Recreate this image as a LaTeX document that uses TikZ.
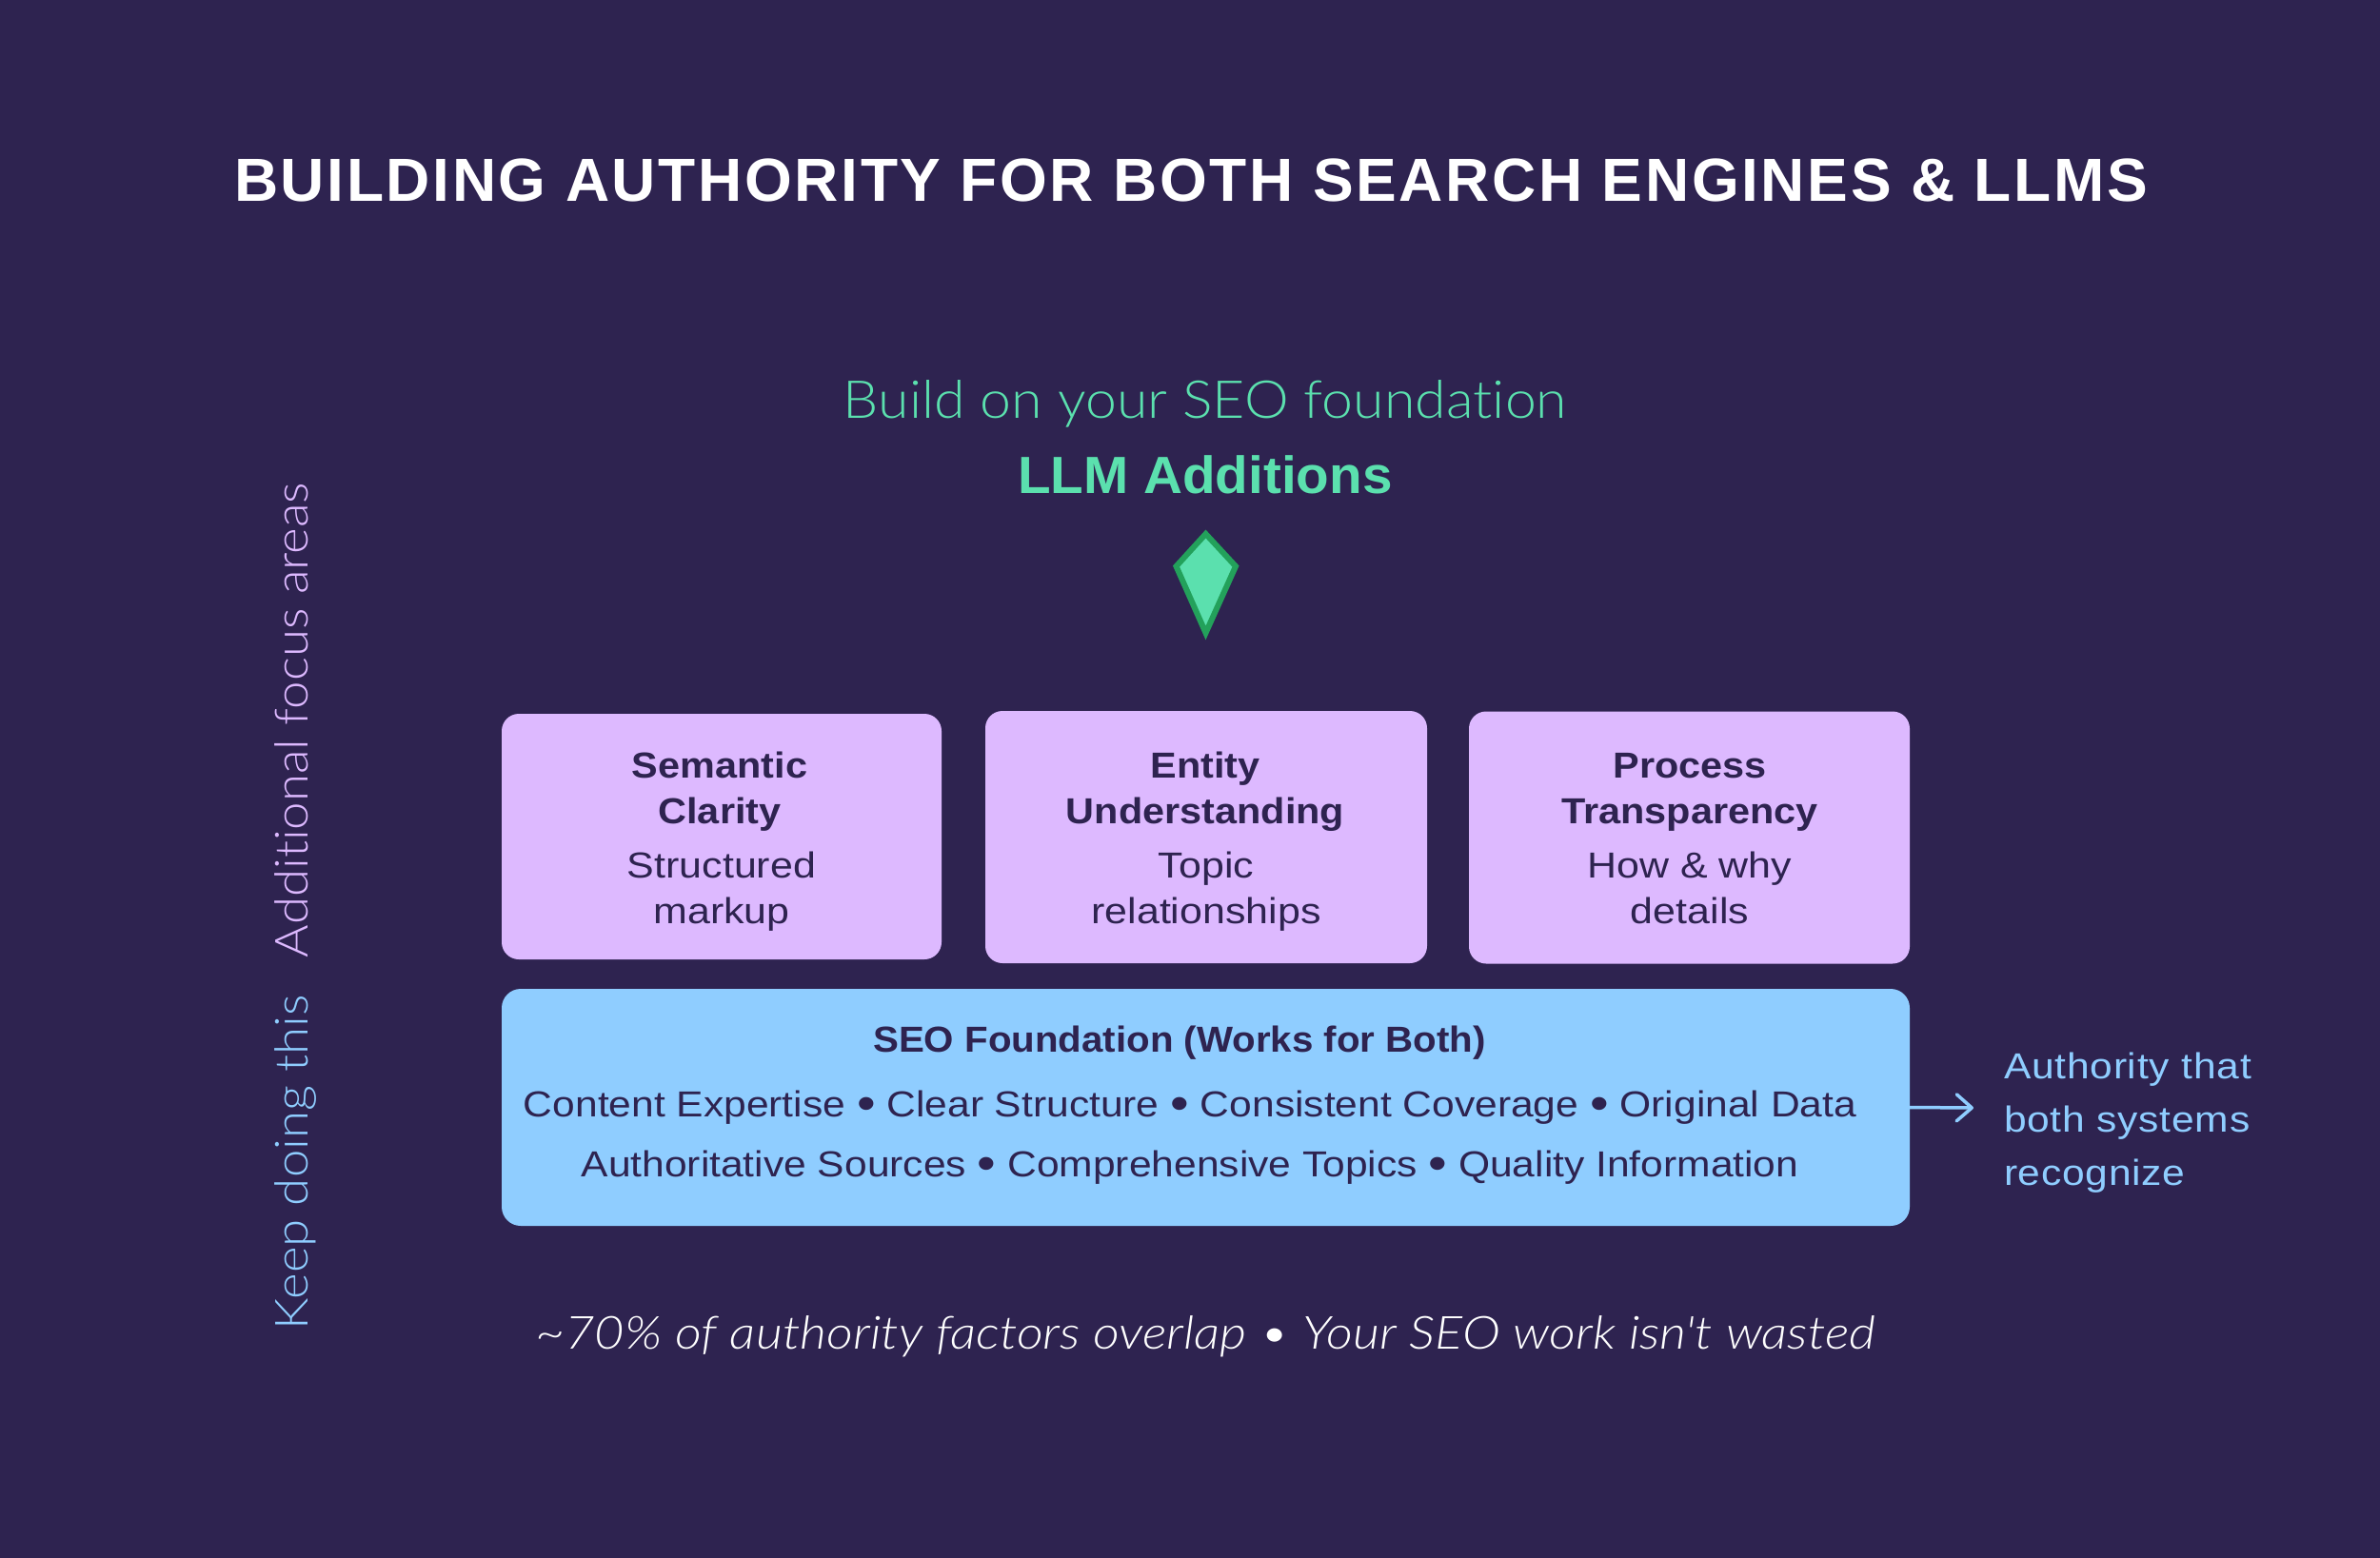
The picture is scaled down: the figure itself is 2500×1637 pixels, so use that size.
\documentclass[tikz,border=0pt]{standalone}
\usepackage{fontspec}
\usetikzlibrary{arrows.meta}
\setmainfont{Liberation Sans}
\newfontfamily\regf[FakeStretch=1.13]{Liberation Sans}
\newfontfamily\basef[FakeStretch=1.12]{Liberation Sans}
\newfontfamily\sidef[FakeStretch=1.12,LetterSpace=2]{Liberation Sans}
\newfontfamily\boldf[FakeStretch=1.03]{Liberation Sans Bold}
\newfontfamily\cardboldf[FakeStretch=1.09]{Liberation Sans Bold}
\newfontfamily\baseboldf[FakeStretch=1.06]{Liberation Sans Bold}
\newfontfamily\titlef[LetterSpace=4.1]{Liberation Sans Bold}
\newfontfamily\lightf[FakeStretch=1.1,Ligatures=NoCommon]{Lato Light}
\newfontfamily\tagf[FakeStretch=1.073,Ligatures=NoCommon]{Lato Light}
\newfontfamily\lightif[FakeStretch=1.13,Ligatures=NoCommon]{Lato Light Italic}
\newcommand{\blt}{{\fontsize{25}{25}\selectfont\raisebox{-0.07em}{•}}}
\definecolor{bgc}{HTML}{2E2350}
\definecolor{lav}{HTML}{DDB9FF}
\definecolor{sky}{HTML}{8FCDFF}
\definecolor{mint}{HTML}{5BE0AE}
\definecolor{forest}{HTML}{23A15B}
\tikzset{
  x=0.5pt,y=-0.5pt,
  txt/.style={anchor=base,inner sep=0pt,outer sep=0pt},
  cardbox/.style={rectangle,rounded corners=9pt,fill=lav,inner sep=0pt,outer sep=0pt,anchor=north west},
  cardhead/.style={txt,text=bgc,font=\cardboldf\fontsize{19}{23}\selectfont},
  cardsub/.style={txt,text=bgc,font=\regf\fontsize{19}{23}\selectfont},
  basehead/.style={txt,text=bgc,font=\baseboldf\fontsize{19}{23}\selectfont},
  basebody/.style={txt,text=bgc,font=\basef\fontsize{19}{23}\selectfont},
  sidenote/.style={txt,anchor=base west,text=sky,font=\sidef\fontsize{19}{23}\selectfont},
  vlabel/.style={txt,anchor=base west,rotate=90,font=\lightf\fontsize{24}{28}\selectfont},
}
\begin{document}
\begin{tikzpicture}
\path[use as bounding box,fill=bgc] (0,0) rectangle (2500,1637);
\node[txt,text=white,font=\titlef\fontsize{32}{38}\selectfont] (title) at (1251,212) {BUILDING AUTHORITY FOR BOTH SEARCH ENGINES \& LLMS};
\node[txt,text=mint,font=\tagf\fontsize{27.5}{33}\selectfont] (tagline) at (1266,439) {Build on your SEO foundation};
\node[txt,text=mint,font=\boldf\fontsize{27.5}{33}\selectfont] (additions) at (1266,518) {LLM Additions};
\coordinate (kt) at (1266.5,561);
\coordinate (kr) at (1298,595);
\coordinate (kb) at (1266.5,665);
\coordinate (kl) at (1235.5,595);
\draw[fill=mint,draw=forest,line width=3pt,miter limit=10] (kt) -- (kr) -- (kb) -- (kl) -- cycle;
% cards
\node[cardbox,minimum width=231pt,minimum height=129pt] (card1) at (527,750) {};
\node[cardbox,minimum width=232pt,minimum height=132.5pt] (card2) at (1035,747) {};
\node[cardbox,minimum width=231.5pt,minimum height=132.5pt] (card3) at (1543,747.5) {};
\node[cardhead] (c1a) at (756,817) {Semantic};
\node[cardhead] (c1b) at (756,865) {Clarity};
\node[cardsub] (c1c) at (758,922) {Structured};
\node[cardsub] (c1d) at (758,970) {markup};
\node[cardhead] (c2a) at (1266,817) {Entity};
\node[cardhead] (c2b) at (1266,865) {Understanding};
\node[cardsub] (c2c) at (1267,922) {Topic};
\node[cardsub] (c2d) at (1267,970) {relationships};
\node[cardhead] (c3a) at (1775,817) {Process};
\node[cardhead] (c3b) at (1775,865) {Transparency};
\node[cardsub] (c3c) at (1775,922) {How \& why};
\node[cardsub] (c3d) at (1775,970) {details};
% foundation
\node[rectangle,rounded corners=10pt,fill=sky,inner sep=0pt,outer sep=0pt,anchor=north west,minimum width=739.5pt,minimum height=124.5pt] (found) at (527,1039) {};
\node[basehead] (f1) at (1239,1105) {SEO Foundation (Works for Both)};
\node[basebody] (f2) at (1250,1173) {Content Expertise \blt{} Clear Structure \blt{} Consistent Coverage \blt{} Original Data};
\node[basebody] (f3) at (1250,1236) {Authoritative Sources \blt{} Comprehensive Topics \blt{} Quality Information};
\coordinate (arrowend) at (2073,1164);
\draw[sky,line width=1.75pt,-{Straight Barb[length=8pt,width=14pt,round,line width=1.75pt]}] (found.east) -- (arrowend);
\node[sidenote] (s1) at (2105,1133) {Authority that};
\node[sidenote] (s2) at (2105,1189) {both systems};
\node[sidenote] (s3) at (2105,1245) {recognize};
% side labels
\node[vlabel,text=lav] (v1) at (323,1006) {Additional focus areas};
\node[vlabel,text=sky] (v2) at (323,1397) {Keep doing this};
% footer
\node[txt,text=white,font=\lightif\fontsize{24}{28}\selectfont] (foot) at (1266,1417) {\char`\~70\% of authority factors overlap • Your SEO work isn't wasted};
\end{tikzpicture}
\end{document}
